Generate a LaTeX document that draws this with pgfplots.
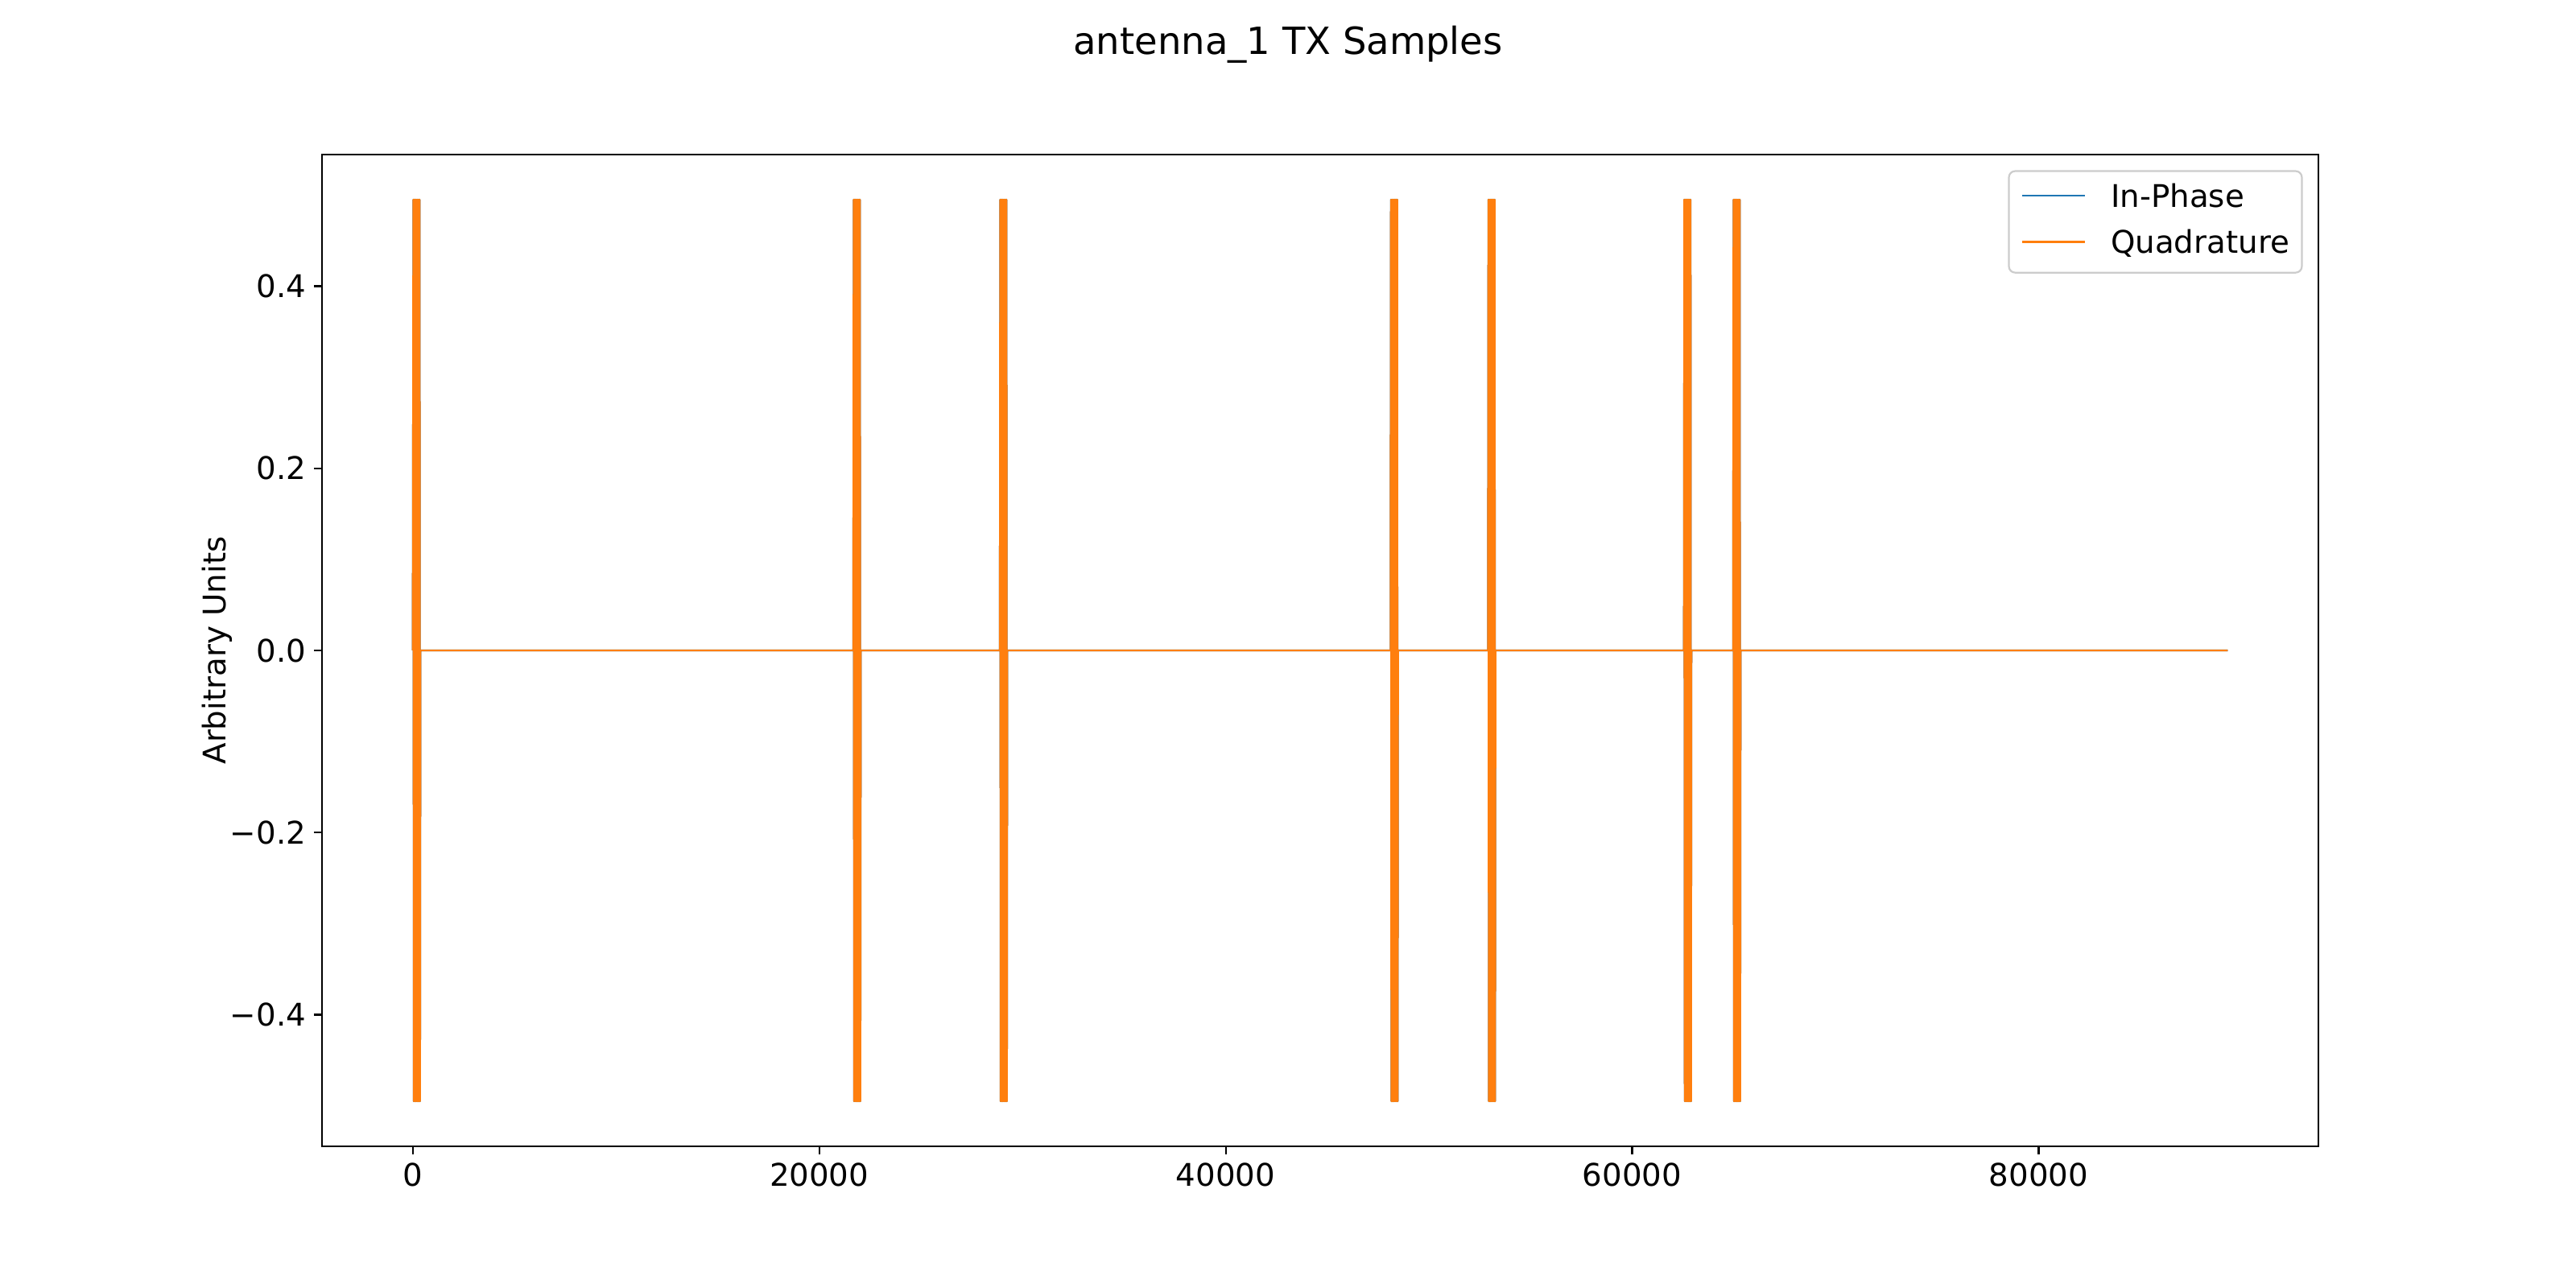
\documentclass[border=0pt]{standalone}
\usepackage{fontspec}
\setmainfont{DejaVu Sans}
\usepackage{pgfplots}
\pgfplotsset{compat=1.18}
\definecolor{Cblue}{RGB}{31,119,180}
\definecolor{Corange}{RGB}{255,127,14}
\definecolor{legedge}{RGB}{204,204,204}
\begin{document}
\begin{tikzpicture}
\useasboundingbox (0,0) rectangle (1152bp,576bp);
\node[anchor=base, font=\fontsize{16.8}{20}\selectfont] at (576bp,551.7bp) {antenna\_1 TX Samples};
\begin{axis}[
  at={(144bp,63.36bp)}, anchor=south west,
  scale only axis, width=892.8bp, height=443.52bp,
  xmin=-4465, xmax=93765, ymin=-0.5445, ymax=0.5445,
  axis line style={line width=0.8bp},
  tick align=outside, tick pos=left,
  major tick length=3.5bp,
  tick style={line width=0.8bp, black},
  scaled x ticks=false, scaled y ticks=false,
  xtick={0,20000,40000,60000,80000},
  xticklabels={0,20000,40000,60000,80000},
  ytick={-0.4,-0.2,0,0.2,0.4},
  yticklabels={−0.4,−0.2,0.0,0.2,0.4},
  /pgf/number format/assume math mode=true,
  every tick label/.append style={font=\fontsize{14}{16.8}\selectfont, inner sep=0pt},
  xticklabel style={anchor=north, inner sep=0pt, yshift=-3.9bp},
  yticklabel style={anchor=east, inner sep=0pt, xshift=-3.5bp},
  ylabel={Arbitrary Units},
  every axis y label/.style={at={(rel axis cs:0,0.5)}, xshift=-46.7bp, rotate=90, anchor=center, inner sep=0pt, font=\fontsize{14}{16.8}\selectfont},
  legend style={at={(1,1)}, anchor=north east, xshift=-7bp, yshift=-7bp,
    draw=legedge, line width=0.8bp, fill=white, rounded corners=2.8bp,
    inner xsep=5.6bp, inner ysep=5.6bp, row sep=7bp, column sep=11.2bp,
    font=\fontsize{14}{16.8}\selectfont,
    nodes={inner sep=0pt, text height=10.5bp, text depth=3.1bp, anchor=base west}},
  legend cell align=left,
  legend image code/.code={\draw[#1] (0bp,5bp) -- (28bp,5bp);},
  clip=true,
]
\addplot[Cblue, line width=0.8bp, line join=round] coordinates {
(0,0) (30,0.495) (52,-0.495) (74,0.495) (96,-0.495) (118,0.495) (140,-0.495) (162,0.495) (184,-0.495) (206,0.495) (228,-0.495) (250,0.495) (272,-0.495) (294,0.495) (316,-0.495) (338,0.495) (360,-0.495) (380,0)
(21675,0) (21695,0.495) (21717,-0.495) (21739,0.495) (21761,-0.495) (21783,0.495) (21805,-0.495) (21827,0.495) (21849,-0.495) (21871,0.495) (21893,-0.495) (21915,0.495) (21937,-0.495) (21959,0.495) (21981,-0.495) (22003,0.495) (22025,-0.495) (22045,0)
(28885,0) (28905,0.495) (28927,-0.495) (28949,0.495) (28971,-0.495) (28993,0.495) (29015,-0.495) (29037,0.495) (29059,-0.495) (29081,0.495) (29103,-0.495) (29125,0.495) (29147,-0.495) (29169,0.495) (29191,-0.495) (29213,0.495) (29235,-0.495) (29255,0)
(48110,0) (48130,0.495) (48152,-0.495) (48174,0.495) (48196,-0.495) (48218,0.495) (48240,-0.495) (48262,0.495) (48284,-0.495) (48306,0.495) (48328,-0.495) (48350,0.495) (48372,-0.495) (48394,0.495) (48416,-0.495) (48438,0.495) (48460,-0.495) (48480,0)
(52905,0) (52925,0.495) (52947,-0.495) (52969,0.495) (52991,-0.495) (53013,0.495) (53035,-0.495) (53057,0.495) (53079,-0.495) (53101,0.495) (53123,-0.495) (53145,0.495) (53167,-0.495) (53189,0.495) (53211,-0.495) (53233,0.495) (53255,-0.495) (53275,0)
(62545,0) (62565,0.495) (62587,-0.495) (62609,0.495) (62631,-0.495) (62653,0.495) (62675,-0.495) (62697,0.495) (62719,-0.495) (62741,0.495) (62763,-0.495) (62785,0.495) (62807,-0.495) (62829,0.495) (62851,-0.495) (62873,0.495) (62895,-0.495) (62915,0)
(64965,0) (64985,0.495) (65007,-0.495) (65029,0.495) (65051,-0.495) (65073,0.495) (65095,-0.495) (65117,0.495) (65139,-0.495) (65161,0.495) (65183,-0.495) (65205,0.495) (65227,-0.495) (65249,0.495) (65271,-0.495) (65293,0.495) (65315,-0.495) (65335,0)
(89300,0)
};
\addlegendentry{In-Phase}
\addplot[Corange, line width=0.8bp, line join=round] coordinates {
(0,0) (30,0.495) (52,-0.495) (74,0.495) (96,-0.495) (118,0.495) (140,-0.495) (162,0.495) (184,-0.495) (206,0.495) (228,-0.495) (250,0.495) (272,-0.495) (294,0.495) (316,-0.495) (338,0.495) (360,-0.495) (380,0)
(21675,0) (21695,0.495) (21717,-0.495) (21739,0.495) (21761,-0.495) (21783,0.495) (21805,-0.495) (21827,0.495) (21849,-0.495) (21871,0.495) (21893,-0.495) (21915,0.495) (21937,-0.495) (21959,0.495) (21981,-0.495) (22003,0.495) (22025,-0.495) (22045,0)
(28885,0) (28905,0.495) (28927,-0.495) (28949,0.495) (28971,-0.495) (28993,0.495) (29015,-0.495) (29037,0.495) (29059,-0.495) (29081,0.495) (29103,-0.495) (29125,0.495) (29147,-0.495) (29169,0.495) (29191,-0.495) (29213,0.495) (29235,-0.495) (29255,0)
(48110,0) (48130,0.495) (48152,-0.495) (48174,0.495) (48196,-0.495) (48218,0.495) (48240,-0.495) (48262,0.495) (48284,-0.495) (48306,0.495) (48328,-0.495) (48350,0.495) (48372,-0.495) (48394,0.495) (48416,-0.495) (48438,0.495) (48460,-0.495) (48480,0)
(52905,0) (52925,0.495) (52947,-0.495) (52969,0.495) (52991,-0.495) (53013,0.495) (53035,-0.495) (53057,0.495) (53079,-0.495) (53101,0.495) (53123,-0.495) (53145,0.495) (53167,-0.495) (53189,0.495) (53211,-0.495) (53233,0.495) (53255,-0.495) (53275,0)
(62545,0) (62565,0.495) (62587,-0.495) (62609,0.495) (62631,-0.495) (62653,0.495) (62675,-0.495) (62697,0.495) (62719,-0.495) (62741,0.495) (62763,-0.495) (62785,0.495) (62807,-0.495) (62829,0.495) (62851,-0.495) (62873,0.495) (62895,-0.495) (62915,0)
(64965,0) (64985,0.495) (65007,-0.495) (65029,0.495) (65051,-0.495) (65073,0.495) (65095,-0.495) (65117,0.495) (65139,-0.495) (65161,0.495) (65183,-0.495) (65205,0.495) (65227,-0.495) (65249,0.495) (65271,-0.495) (65293,0.495) (65315,-0.495) (65335,0)
(89300,0)
};
\addlegendentry{Quadrature}
\end{axis}
\end{tikzpicture}
\end{document}
